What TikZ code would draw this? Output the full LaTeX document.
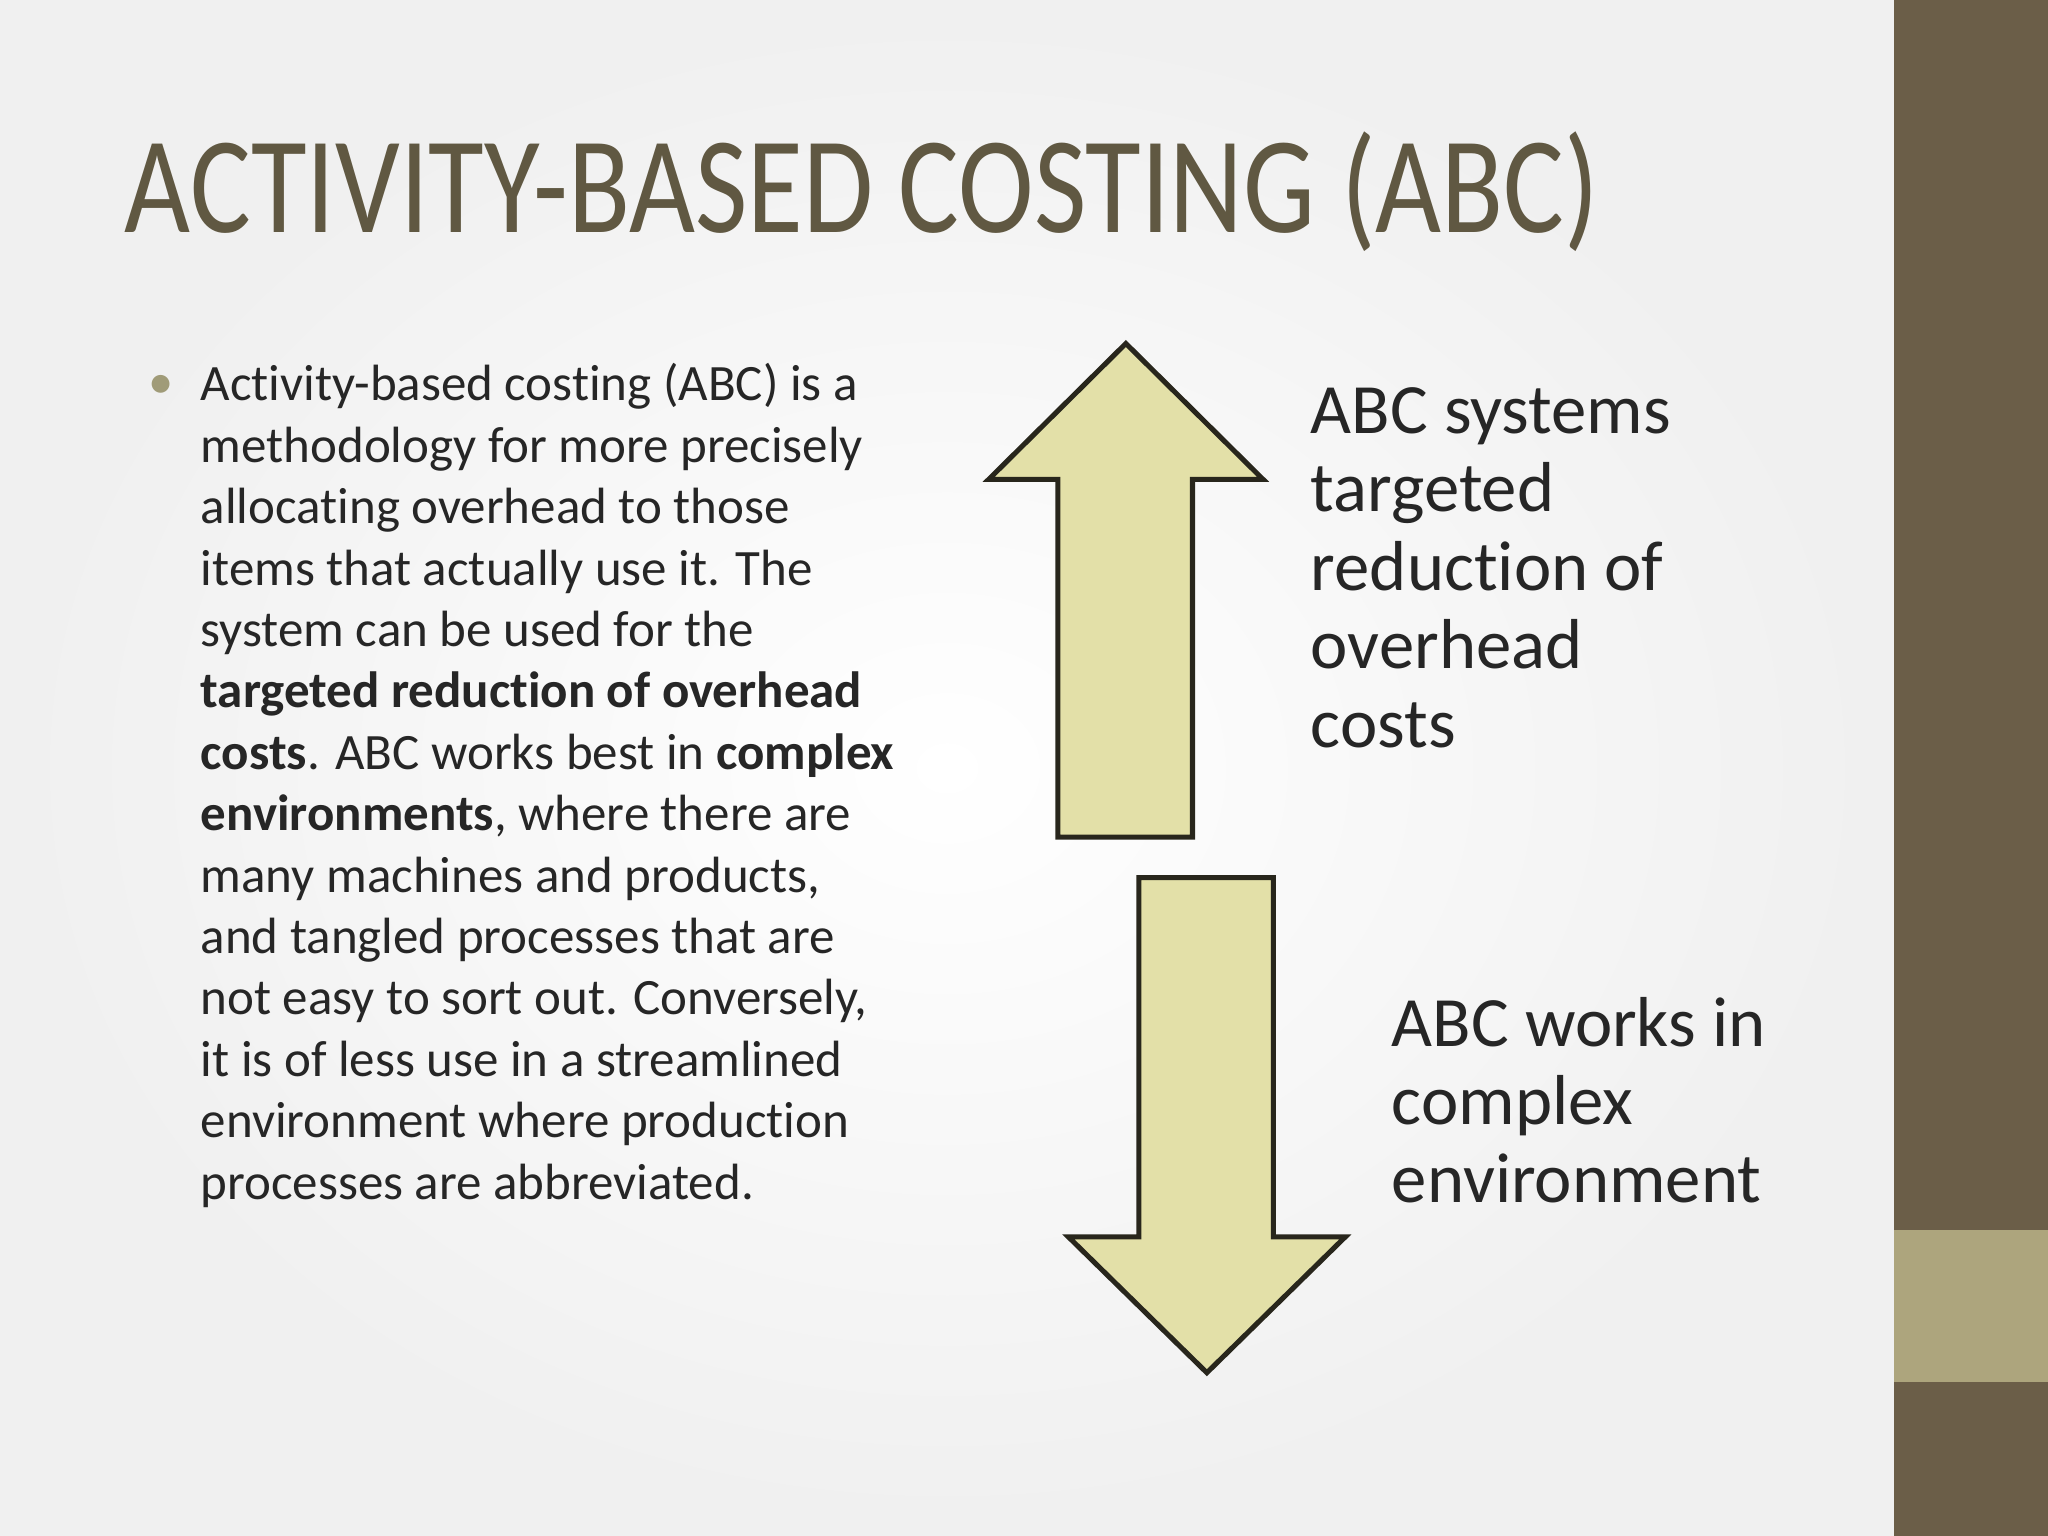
\documentclass[tikz,border=0pt]{standalone}
\usepackage{fontspec}
\setmainfont[Ligatures=NoCommon]{Carlito}
\usetikzlibrary{shadings}
\definecolor{bar}{RGB}{107,94,72}
\definecolor{barlight}{RGB}{173,165,125}
\definecolor{titlec}{RGB}{96,88,66}
\definecolor{arrowfill}{RGB}{227,224,168}
\definecolor{arrowline}{RGB}{40,38,28}
\definecolor{bodyc}{RGB}{38,38,38}
\definecolor{bulletc}{RGB}{160,155,120}
\tikzset{
  body/.style={anchor=base west,inner sep=0pt,font=\fontsize{11.1pt}{13pt}\selectfont,text=bodyc},
  side/.style={anchor=base west,inner sep=0pt,font=\fontsize{15.4pt}{18pt}\selectfont,text=bodyc},
  arr/.style={fill=arrowfill,draw=arrowline,line width=1.1pt,line join=miter}
}
\begin{document}
\begin{tikzpicture}[x=0.01cm,y=-0.01cm]
\useasboundingbox (0,0) rectangle (1568,1176);
\shade[inner color=white,outer color=white!94!black] (0,0) rectangle (1450,1176);
\fill[bar] (1450,0) rectangle (1568,1176);
\fill[barlight] (1450,942) rectangle (1568,1058);
\node[anchor=base west,inner sep=0pt,text=titlec,font=\fontsize{30pt}{34pt}\selectfont] (title) at (95,178) {\scalebox{0.827}[1]{ACTIVITY-BASED COSTING (ABC)}};
\node[anchor=base west,inner sep=0pt,text=bulletc,font=\fontsize{11pt}{13pt}\selectfont] (bul) at (113,305) {•};
\node[body] (l1) at (153,307) {Activity-based costing (ABC) is a};
\node[body] (l2) at (153,354) {methodology for more precisely};
\node[body] (l3) at (153,401) {allocating overhead to those};
\node[body] (l4) at (153,448) {items that actually use it. The};
\node[body] (l5) at (153,495) {system can be used for the};
\node[body] (l6) at (153,542) {\textbf{targeted reduction of overhead}};
\node[body] (l7) at (153,589) {\textbf{costs}. ABC works best in \textbf{complex}};
\node[body] (l8) at (153,636) {\textbf{environments}, where there are};
\node[body] (l9) at (153,683) {many machines and products,};
\node[body] (l10) at (153,730) {and tangled processes that are};
\node[body] (l11) at (153,777) {not easy to sort out. Conversely,};
\node[body] (l12) at (153,824) {it is of less use in a streamlined};
\node[body] (l13) at (153,871) {environment where production};
\node[body] (l14) at (153,918) {processes are abbreviated.};
\draw[arr] (862,263) -- (967,367) -- (913,367) -- (913,641) -- (810,641) -- (810,367) -- (757,367) -- cycle;
\draw[arr] (872,672) -- (975,672) -- (975,947) -- (1030,947) -- (924,1051) -- (818,947) -- (872,947) -- cycle;
\node[side] (r1) at (1003,332) {ABC systems};
\node[side] (r2) at (1003,392) {targeted};
\node[side] (r3) at (1003,452) {reduction of};
\node[side] (r4) at (1003,512) {overhead};
\node[side] (r5) at (1003,572) {costs};
\node[side] (s1) at (1065,801) {ABC works in};
\node[side] (s2) at (1065,861) {complex};
\node[side] (s3) at (1065,921) {environment};
\end{tikzpicture}
\end{document}
